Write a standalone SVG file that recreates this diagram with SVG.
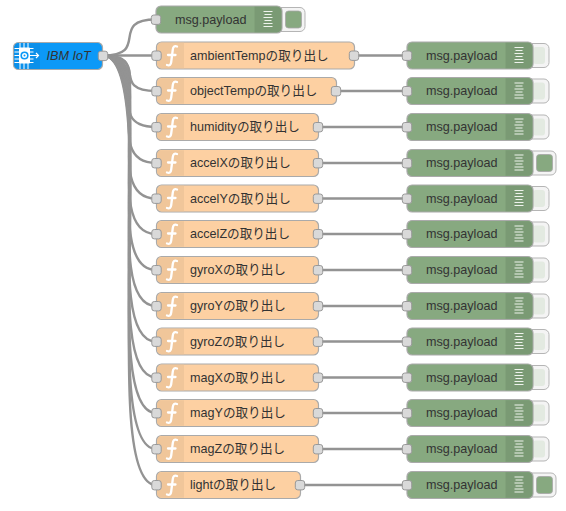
<svg xmlns="http://www.w3.org/2000/svg" width="566" height="511" viewBox="0 0 566 511">
<style>
text{font-family:"Liberation Sans","Noto Sans CJK JP",sans-serif;font-size:12.6px;fill:#333}
.w{fill:none;stroke:#939393;stroke-width:2.400}
.port{fill:#d9d9d9;stroke:#999;stroke-width:1}
.fn{fill:#fdd0a2;stroke:#aaa;stroke-width:1.200}
.ficon{fill:#f0c69a}
.fglyph{fill:none;stroke:#fff;stroke-width:2.300;stroke-linecap:round}
.dbg{fill:#87a980;stroke:#aaa;stroke-width:1.200}
.dicon{fill:#7a9a74}
.bar{stroke:#eef3ec;stroke-width:1.100}
.btn{fill:#f4f4f4;stroke:#b5b5b5;stroke-width:1}
.off{fill:#e3eae1}
.on{fill:#87a980;stroke:#a6a6a6;stroke-width:.8}
</style>
<defs>
<g id="core">
<rect class="dbg" x="0" y="0" width="126" height="27" rx="5"/>
<path class="dicon" d="M98.500 .7h22.500a4.400 4.400 0 0 1 4.400 4.400v16.800a4.400 4.400 0 0 1-4.400 4.400h-22.500z"/>
<path class="bar" d="M107.500 5.500h9M108.500 8.500h7M107.500 11.500h9M108.500 14.500h7M107.500 17.500h9M107.500 20.500h9"/>
<rect class="port" x="-4.700" y="9" width="9.400" height="9.400" rx="2.500"/>
</g>
<g id="boff"><rect class="btn" x="120" y="1.500" width="22" height="24" rx="5"/><rect class="off" x="126" y="5" width="12" height="17" rx="3"/></g>
<g id="bon"><rect class="btn" x="120" y="1.500" width="29" height="24" rx="5"/><rect class="on" x="129.500" y="5" width="16" height="17" rx="3"/></g>
<g id="fi">
<path class="ficon" d="M27.500 .7H5a4.400 4.400 0 0 0-4.400 4.400v16.800a4.400 4.400 0 0 0 4.400 4.400h22.500z"/>
<path class="fglyph" d="M10.500 23c2.800 1 3.900-.5 4.200-3l1.600-12.500c.3-2.500 1.500-4 4.200-3M11.500 13h7.500"/>
<rect class="port" x="-4.700" y="9" width="9.400" height="9.400" rx="2.500"/>
</g>
</defs>
<g id="connectors">
<path class="w" d="M103 55.500C151 55.500 108 19.500 156 19.500"/>
<path class="w" d="M103 55.500H156"/>
<path class="w" d="M103 55.500C151 55.500 108 91 156 91"/>
<path class="w" d="M103 55.500C163 55.500 96 127 156 127"/>
<path class="w" d="M103 55.500C163 55.500 96 163 156 163"/>
<path class="w" d="M103 55.500C163 55.500 96 198.500 156 198.500"/>
<path class="w" d="M103 55.500C163 55.500 96 234 156 234"/>
<path class="w" d="M103 55.500C163 55.500 96 270 156 270"/>
<path class="w" d="M103 55.500C163 55.500 96 306 156 306"/>
<path class="w" d="M103 55.500C163 55.500 96 341.500 156 341.500"/>
<path class="w" d="M103 55.500C163 55.500 96 377.500 156 377.500"/>
<path class="w" d="M103 55.500C163 55.500 96 413 156 413"/>
<path class="w" d="M103 55.500C163 55.500 96 449 156 449"/>
<path class="w" d="M103 55.500C163 55.500 96 485 156 485"/>
<path class="w" d="M354 55.500H407M336 91H407M318 127H407M318 163H407M318 198.500H407M318 234H407M318 270H407M318 306H407M318 341.500H407M318 377.500H407M318 413H407M318 449H407M300 485H407"/>
</g>
<g id="ibmiot">
<rect x="13.500" y="42.500" width="89" height="27" rx="5" fill="#0c99f7" stroke="#aaa" stroke-width="1.200"/>
<path d="M40 43.200H18.500a4.400 4.400 0 0 0-4.400 4.400v17a4.400 4.400 0 0 0 4.400 4.400H40z" fill="#0b90ea"/>
<path d="M20 43v26M24 43v26M28 43v26M14.500 48.500h19M14.500 52h19M14.500 55.500h19M14.500 59h19M14.500 62.500h19" stroke="#fff" stroke-width="1"/>
<rect x="19" y="47.500" width="11" height="16" rx="1" fill="#fff"/>
<circle cx="24.500" cy="55.500" r="3.300" fill="#fff" stroke="#0c99f7" stroke-width="1.600"/><circle cx="24.500" cy="55.500" r="1" fill="#0c99f7"/>
<path d="M33 55.500h5.500M36 53l2.500 2.500L36 58" fill="none" stroke="#fff" stroke-width="1.200"/>
<text x="46.500" y="59.800" style="font-style:italic">IBM IoT</text>
<rect class="port" x="98.300" y="51.200" width="9.400" height="9.400" rx="2.500"/>
</g>
<g id="debug0"><use href="#bon" x="156" y="6"/><use href="#core" x="156" y="6"/><text x="175" y="23.800">msg.payload</text></g>
<g id="f1"><rect class="fn" x="156.500" y="42" width="198" height="27" rx="5"/><use href="#fi" x="156.500" y="42"/><text x="190" y="59.800">ambientTempの取り出し</text><rect class="port" x="349.300" y="51" width="9.400" height="9.400" rx="2.500"/></g>
<g id="f2"><rect class="fn" x="156.500" y="77.500" width="180" height="27" rx="5"/><use href="#fi" x="156.500" y="77.500"/><text x="190" y="95.300">objectTempの取り出し</text><rect class="port" x="331.300" y="86.500" width="9.400" height="9.400" rx="2.500"/></g>
<g id="f3"><rect class="fn" x="156.500" y="113.500" width="162" height="27" rx="5"/><use href="#fi" x="156.500" y="113.500"/><text x="190" y="131.300">humidityの取り出し</text><rect class="port" x="313.300" y="122.500" width="9.400" height="9.400" rx="2.500"/></g>
<g id="f4"><rect class="fn" x="156.500" y="149.500" width="162" height="27" rx="5"/><use href="#fi" x="156.500" y="149.500"/><text x="190" y="167.300">accelXの取り出し</text><rect class="port" x="313.300" y="158.500" width="9.400" height="9.400" rx="2.500"/></g>
<g id="f5"><rect class="fn" x="156.500" y="185" width="162" height="27" rx="5"/><use href="#fi" x="156.500" y="185"/><text x="190" y="202.800">accelYの取り出し</text><rect class="port" x="313.300" y="194" width="9.400" height="9.400" rx="2.500"/></g>
<g id="f6"><rect class="fn" x="156.500" y="220.500" width="162" height="27" rx="5"/><use href="#fi" x="156.500" y="220.500"/><text x="190" y="238.300">accelZの取り出し</text><rect class="port" x="313.300" y="229.500" width="9.400" height="9.400" rx="2.500"/></g>
<g id="f7"><rect class="fn" x="156.500" y="256.500" width="162" height="27" rx="5"/><use href="#fi" x="156.500" y="256.500"/><text x="190" y="274.300">gyroXの取り出し</text><rect class="port" x="313.300" y="265.500" width="9.400" height="9.400" rx="2.500"/></g>
<g id="f8"><rect class="fn" x="156.500" y="292.500" width="162" height="27" rx="5"/><use href="#fi" x="156.500" y="292.500"/><text x="190" y="310.300">gyroYの取り出し</text><rect class="port" x="313.300" y="301.500" width="9.400" height="9.400" rx="2.500"/></g>
<g id="f9"><rect class="fn" x="156.500" y="328" width="162" height="27" rx="5"/><use href="#fi" x="156.500" y="328"/><text x="190" y="345.800">gyroZの取り出し</text><rect class="port" x="313.300" y="337" width="9.400" height="9.400" rx="2.500"/></g>
<g id="f10"><rect class="fn" x="156.500" y="364" width="162" height="27" rx="5"/><use href="#fi" x="156.500" y="364"/><text x="190" y="381.800">magXの取り出し</text><rect class="port" x="313.300" y="373" width="9.400" height="9.400" rx="2.500"/></g>
<g id="f11"><rect class="fn" x="156.500" y="399.500" width="162" height="27" rx="5"/><use href="#fi" x="156.500" y="399.500"/><text x="190" y="417.300">magYの取り出し</text><rect class="port" x="313.300" y="408.500" width="9.400" height="9.400" rx="2.500"/></g>
<g id="f12"><rect class="fn" x="156.500" y="435.500" width="162" height="27" rx="5"/><use href="#fi" x="156.500" y="435.500"/><text x="190" y="453.300">magZの取り出し</text><rect class="port" x="313.300" y="444.500" width="9.400" height="9.400" rx="2.500"/></g>
<g id="f13"><rect class="fn" x="156.500" y="471.500" width="144" height="27" rx="5"/><use href="#fi" x="156.500" y="471.500"/><text x="190" y="489.300">lightの取り出し</text><rect class="port" x="295.300" y="480.500" width="9.400" height="9.400" rx="2.500"/></g>
<g id="d1"><use href="#boff" x="407" y="42"/><use href="#core" x="407" y="42"/><text x="426" y="59.800">msg.payload</text></g>
<g id="d2"><use href="#boff" x="407" y="77.500"/><use href="#core" x="407" y="77.500"/><text x="426" y="95.300">msg.payload</text></g>
<g id="d3"><use href="#boff" x="407" y="113.500"/><use href="#core" x="407" y="113.500"/><text x="426" y="131.300">msg.payload</text></g>
<g id="d4"><use href="#bon" x="407" y="149.500"/><use href="#core" x="407" y="149.500"/><text x="426" y="167.300">msg.payload</text></g>
<g id="d5"><use href="#boff" x="407" y="185"/><use href="#core" x="407" y="185"/><text x="426" y="202.800">msg.payload</text></g>
<g id="d6"><use href="#boff" x="407" y="220.500"/><use href="#core" x="407" y="220.500"/><text x="426" y="238.300">msg.payload</text></g>
<g id="d7"><use href="#boff" x="407" y="256.500"/><use href="#core" x="407" y="256.500"/><text x="426" y="274.300">msg.payload</text></g>
<g id="d8"><use href="#boff" x="407" y="292.500"/><use href="#core" x="407" y="292.500"/><text x="426" y="310.300">msg.payload</text></g>
<g id="d9"><use href="#boff" x="407" y="328"/><use href="#core" x="407" y="328"/><text x="426" y="345.800">msg.payload</text></g>
<g id="d10"><use href="#boff" x="407" y="364"/><use href="#core" x="407" y="364"/><text x="426" y="381.800">msg.payload</text></g>
<g id="d11"><use href="#boff" x="407" y="399.500"/><use href="#core" x="407" y="399.500"/><text x="426" y="417.300">msg.payload</text></g>
<g id="d12"><use href="#boff" x="407" y="435.500"/><use href="#core" x="407" y="435.500"/><text x="426" y="453.300">msg.payload</text></g>
<g id="d13"><use href="#bon" x="407" y="471.500"/><use href="#core" x="407" y="471.500"/><text x="426" y="489.300">msg.payload</text></g>
</svg>
